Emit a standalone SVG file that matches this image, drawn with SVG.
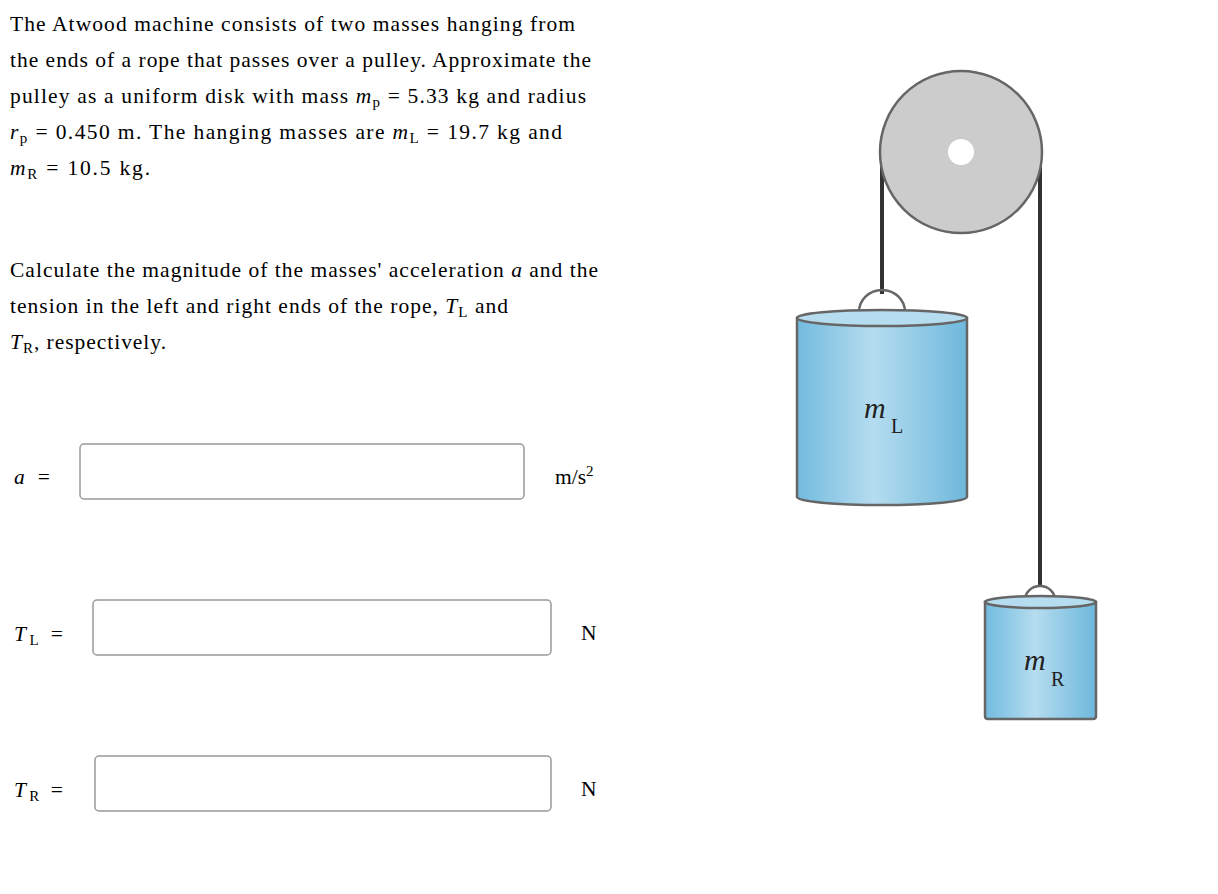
<svg xmlns="http://www.w3.org/2000/svg" width="1218" height="894" viewBox="0 0 1218 894">
<defs>
<linearGradient id="bg" x1="0" x2="1" y1="0" y2="0">
<stop offset="0" stop-color="#72bbdf"/><stop offset="0.45" stop-color="#b5dcef"/><stop offset="1" stop-color="#6db8dc"/>
</linearGradient>
<style>
.t{font-family:"Liberation Serif",serif;font-size:21.5px;fill:#000}
.i{font-style:italic}
.s{font-size:15px}
.big{font-size:30px;fill:#222}
.lab{font-size:20px;fill:#222}
.box{fill:#fff;stroke:#999;stroke-width:1.5}
.rope{stroke:#333;stroke-width:4;fill:none}
.out{stroke:#666;stroke-width:2.5}
</style>
</defs>
<rect width="1218" height="894" fill="#fff"/>
<g id="text">
<text class="t" x="10" y="31" textLength="565" lengthAdjust="spacing">The Atwood machine consists of two masses hanging from</text>
<text class="t" x="10" y="67" textLength="581" lengthAdjust="spacing">the ends of a rope that passes over a pulley. Approximate the</text>
<text class="t" x="10" y="103" textLength="576" lengthAdjust="spacing">pulley as a uniform disk with mass <tspan class="i">m</tspan><tspan class="s" dy="4">p</tspan><tspan dy="-4">  =  5.33 kg and radius</tspan></text>
<text class="t" x="10" y="139" textLength="552" lengthAdjust="spacing"><tspan class="i">r</tspan><tspan class="s" dy="4">p</tspan><tspan dy="-4">  =  0.450 m. The hanging masses are </tspan><tspan class="i">m</tspan><tspan class="s" dy="4">L</tspan><tspan dy="-4">  =  19.7 kg and</tspan></text>
<text class="t" x="10" y="175" textLength="140" lengthAdjust="spacing"><tspan class="i">m</tspan><tspan class="s" dy="4">R</tspan><tspan dy="-4">  =  10.5 kg.</tspan></text>
<text class="t" x="10" y="277" textLength="588" lengthAdjust="spacing">Calculate the magnitude of the masses' acceleration <tspan class="i">a</tspan> and the</text>
<text class="t" x="10" y="313" textLength="498" lengthAdjust="spacing">tension in the left and right ends of the rope, <tspan class="i">T</tspan><tspan class="s" dy="4">L</tspan><tspan dy="-4"> and</tspan></text>
<text class="t" x="10" y="349" textLength="156" lengthAdjust="spacing"><tspan class="i">T</tspan><tspan class="s" dy="4">R</tspan><tspan dy="-4">, respectively.</tspan></text>
</g>
<g id="input-a">
<text class="t" x="14" y="484" textLength="36" lengthAdjust="spacing"><tspan class="i">a</tspan>  =</text>
<rect class="box" x="80" y="444" width="444" height="55" rx="4"/>
<text class="t" x="555" y="484">m/s<tspan class="s" dy="-8">2</tspan></text>
</g>
<g id="input-TL">
<text class="t" x="14" y="641" textLength="49" lengthAdjust="spacing"><tspan class="i">T</tspan><tspan class="s" dy="4">L</tspan><tspan dy="-4">  =</tspan></text>
<rect class="box" x="93" y="600" width="458" height="55" rx="4"/>
<text class="t" x="581" y="640">N</text>
</g>
<g id="input-TR">
<text class="t" x="14" y="797" textLength="49" lengthAdjust="spacing"><tspan class="i">T</tspan><tspan class="s" dy="4">R</tspan><tspan dy="-4">  =</tspan></text>
<rect class="box" x="95" y="756" width="456" height="55" rx="4"/>
<text class="t" x="581" y="796">N</text>
</g>
<g id="connectors">
<line class="rope" x1="882" y1="152" x2="882" y2="294"/>
<line class="rope" x1="1040" y1="152" x2="1040" y2="586"/>
</g>
<g id="pulley">
<circle cx="961" cy="152" r="81" fill="#cccccc" stroke="#666" stroke-width="2.5"/>
<circle cx="961" cy="152" r="13" fill="#fff"/>
</g>
<g id="massL">
<path d="M859 312 A23 22 0 0 1 905 312" fill="none" class="out" stroke-width="3"/>
<path d="M797 318 L797 497 A85 8 0 0 0 967 497 L967 318 Z" fill="url(#bg)" class="out"/>
<ellipse cx="882" cy="318" rx="85" ry="8" fill="#b5dcef" class="out"/>
<text class="t i big" x="864" y="418">m</text>
<text class="t lab" x="891" y="433">L</text>
</g>
<g id="massR">
<path d="M1025 600 A15 14 0 0 1 1055 600" fill="none" class="out" stroke-width="3"/>
<path d="M985 602 L985 716 Q985 719 988 719 L1093 719 Q1096 719 1096 716 L1096 602 Z" fill="url(#bg)" class="out"/>
<ellipse cx="1040.5" cy="602" rx="55.5" ry="6" fill="#b5dcef" class="out"/>
<text class="t i big" x="1024" y="670">m</text>
<text class="t lab" x="1051" y="686">R</text>
</g>
</svg>
